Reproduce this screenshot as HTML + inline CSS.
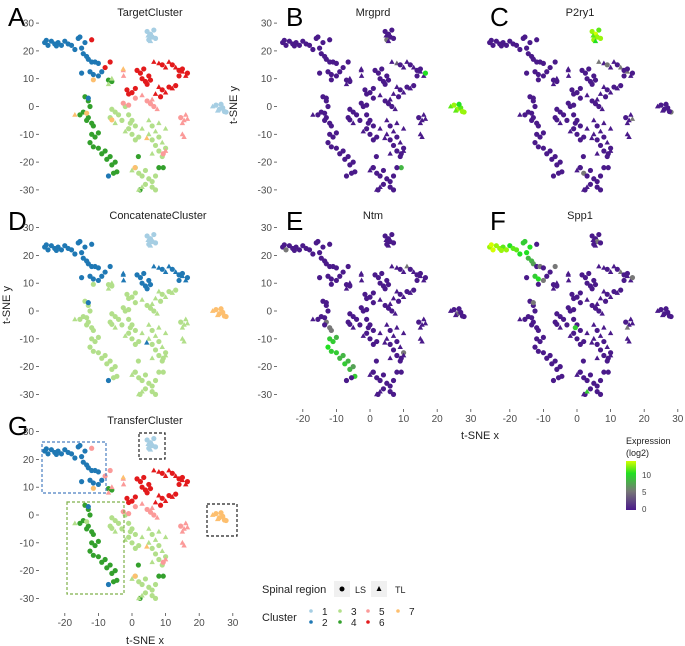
<!DOCTYPE html>
<html><head><meta charset="utf-8"><style>
html,body{margin:0;padding:0;background:#fff;}
svg{display:block;font-family:"Liberation Sans",sans-serif;}
.tk{fill:#4d4d4d;font-size:10px;}
</style></head><body>
<svg id="fig" width="685" height="646" viewBox="0 0 685 646">
<defs>
<linearGradient id="expGrad" x1="0" y1="1" x2="0" y2="0">
<stop offset="0" stop-color="#4a1a8a"/><stop offset="0.38" stop-color="#777777"/><stop offset="0.75" stop-color="#22e022"/><stop offset="1" stop-color="#d4ff00"/>
</linearGradient>
</defs>
</svg>
<script>
// points: x, y, shape(0=LS circle,1=TL triangle), targetCluster, concatCluster, transferCluster
const ptX = [-26,-25,-24,-23,-22,-21,-20,-19,-25.5,-22.5,-18,-17,-16,-15.5,-15,-14.5,-13.5,-14,-13,-12,-11,-10,-12.5,-11.5,-10,-15,-9,-12,-6.5,-8,
-14,-13,-12.5,-14.5,-15.5,-13,-12,-11.5,-13.5,-12,-11,-10,-12.5,-11.5,-10,-9,-8,-7.5,-6.5,-6,-5,-4.5,-5.5,-7,-6,1.9,9.3,2.4,8,-13,-7,
-6,-5,-4,-6.5,-3,-2,-1,0,1,-1,0,2,1,-0.5,-2,3,-5,5,6,7,6,8,7,8,9,10,9,6,5,8,10,1,2,3,4,5,6,7,4,3,6,0,2,7,-7,-6,
-2.6,-2.5,-2.6,-1,4.5,5.5,6.5,7.5,6,14.5,15.5,16.5,15,16,15,15.5,9.3,10,3,1,
1.5,2.5,3,4,5,4.5,3.5,5.5,-1.5,0,1,-1,6.5,8,9,10,11,12,13,14,15,16,15,16.5,14,8,9,10,11,12,13,7,8.5,
4.5,5.5,6,5,6.5,7,5.5,4.8,24,25,26,27,28,26.5,25.5,27.5,
-11.5,-17,-13.5,-6,4.4,0.9,-2.6];
const ptY = [23,22,23.5,22.5,23,22,23.5,22.5,23.8,21.8,22,20.5,24.5,25,21,19,18,23,17,16,16,15.5,12.5,11.5,11,12,12.5,24,16,14,
3.5,2,0,-2,-3,-4,-6,-7,-5,-10,-11,-9.5,-13,-14.5,-15,-17,-16,-19,-18,-21,-20,-23.5,-24,9.5,9,-18,-22,-30,-22,3,-25,
-1,-2,-3,-4,-5,0,-3,-5,-7,-8,-10,-11,-12,-6,-9,-8,-6,-5,-7,-9,-12,-11,-14,-16,-13,-15,-18,-17,-10,-6,-8,-22,-24,-25,-23,-26,-27,-25,-28,-29,-29,-23,-30,-30,8,10,
13,11,1.2,0.5,2,1,0,-1,2.5,-4,-5,-4.5,-6,-3,-10,-11,-17,-16,4,3,
13,12,10,9,11,8,13.5,9.5,6,5,6.5,4.5,16,15.5,15,14,16,15,14,13,12.5,11,13.5,12,11,7,6,5,7,6.5,7.5,4.5,3.5,
27,26,25,24,27.5,24.5,23.5,25.5,0,0.5,-1,-0.5,-2,0.8,-1.5,-1.8,
9.6,-3,-2.4,-4.8,-11.4,-22,13.5];
const ptShape = [0,0,0,0,0,0,0,0,0,0,0,0,0,0,0,0,0,0,0,0,0,0,0,0,0,0,0,0,0,0,
0,0,0,0,0,0,0,0,0,0,0,0,0,0,0,0,0,0,0,0,0,0,0,0,0,0,0,0,0,0,0,
0,0,0,0,0,0,0,0,0,0,0,0,0,0,1,1,1,1,0,1,0,0,0,0,1,0,0,1,1,1,1,0,0,0,0,0,0,0,0,1,0,1,1,0,1,1,
1,1,0,0,0,0,0,1,1,0,1,1,1,1,1,1,0,1,1,0,
0,0,0,0,0,0,0,0,0,0,0,0,1,1,0,1,1,0,1,0,1,1,0,0,0,1,0,1,0,1,0,1,0,
0,0,0,0,0,0,1,1,1,0,0,0,0,0,1,0,
0,1,0,0,1,0,1];
const targetCluster = [2,2,2,2,2,2,2,2,2,2,2,2,2,2,2,2,2,2,2,2,2,2,2,2,2,2,2,6,6,6,
4,4,4,4,4,4,4,4,4,4,4,4,4,4,4,4,4,4,4,4,4,4,4,4,4,4,4,4,4,2,2,
3,3,3,3,3,3,3,3,3,3,3,3,3,3,3,3,3,3,3,3,3,3,3,3,3,3,3,3,3,3,3,3,3,3,3,3,3,3,3,3,3,3,3,3,3,3,
5,5,5,5,5,5,5,5,5,5,5,5,5,5,5,5,5,5,5,5,
6,6,6,6,6,6,6,6,6,6,6,6,6,6,6,6,6,6,6,6,6,6,6,6,6,6,6,6,6,6,6,6,6,
1,1,1,1,1,1,1,1,1,1,1,1,1,1,1,1,
7,7,7,7,7,7,7];
const concatCluster = [2,2,2,2,2,2,2,2,2,2,2,2,2,2,2,2,2,2,2,2,2,2,2,2,2,2,2,2,2,2,
3,3,3,3,3,3,3,3,3,3,3,3,3,3,3,3,3,3,3,3,3,3,3,3,3,3,3,3,3,2,2,
3,3,3,3,3,3,3,3,3,3,3,3,3,3,3,3,3,3,3,3,3,3,3,3,3,3,3,3,3,3,3,3,3,3,3,3,3,3,3,3,3,3,3,3,3,3,
2,2,3,3,3,3,3,3,3,3,3,3,3,3,3,3,3,3,3,3,
2,2,2,2,2,2,2,2,3,3,3,3,2,2,2,2,2,2,2,2,2,2,2,2,2,3,3,3,3,3,3,3,3,
1,1,1,1,1,1,1,1,7,7,7,7,7,7,7,7,
3,3,3,3,2,3,2];
const transferCluster = [2,2,2,2,2,2,2,2,2,2,2,2,2,2,2,2,2,2,2,2,2,2,2,2,2,2,2,5,5,5,
4,4,4,4,4,4,4,4,4,4,4,4,4,4,4,4,4,4,4,4,4,4,4,4,4,4,4,4,4,2,2,
3,3,3,3,3,3,3,3,3,3,3,3,3,3,3,3,3,3,3,3,3,3,3,3,3,3,3,3,3,3,3,3,3,3,3,3,3,3,3,3,3,3,3,3,5,5,
5,5,5,5,5,5,5,5,5,5,5,5,5,5,5,5,5,5,5,5,
6,6,6,6,6,6,6,6,6,6,6,6,6,6,6,6,6,6,6,6,6,6,6,6,6,6,6,6,6,6,6,6,6,
1,1,1,1,1,1,1,1,7,7,7,7,7,7,7,7,
7,3,3,3,7,7,7];
// sparse expression values (log2) keyed by point index; all others 0
const mrgprdHigh = {168:11,169:12,170:12,171:11,172:12,173:10,174:11,175:12,150:10,56:8,163:5,140:4};
const p2ry1High = {160:12,161:13,162:12,163:12,164:11,165:12,166:10,167:11,139:5,141:5,145:5,147:5,118:5,93:5,172:5};
const ntmHigh = {39:9,40:9,41:8,42:10,43:9,44:9,45:8,46:8,47:9,48:8,49:8,50:7,51:9,35:5,36:5,37:5,1:5,86:5,143:5,170:4};
const spp1High = {0:12,1:13,2:12,3:12,4:11,5:12,6:10,7:11,8:13,9:12,10:11,11:10,12:9,13:9,14:10,15:8,16:8,17:10,18:7,20:5,22:9,23:10,24:5,28:5,74:9,145:5,150:5,119:5,100:9,59:5,162:5};
const clusterColors = {1:'#a6cee3',2:'#1f78b4',3:'#b2df8a',4:'#33a02c',5:'#fb9a99',6:'#e31a1c',7:'#fdbf6f'};
const yTicks = [30,20,10,0,-10,-20,-30];
const xTicks = [-20,-10,0,10,20,30];

const NS='http://www.w3.org/2000/svg';
const svg=document.getElementById('fig');
const SX=3.36, SY=2.78;
function el(tag,attrs,parent){const e=document.createElementNS(NS,tag);for(const k in attrs)e.setAttribute(k,attrs[k]);(parent||svg).appendChild(e);return e;}
function txt(s,attrs,parent){const e=el('text',attrs,parent);e.textContent=s;return e;}
function expColor(v){
  const stops=[[0,[74,26,138]],[5,[119,119,119]],[10,[34,224,34]],[13,[212,255,0]]];
  v=Math.max(0,Math.min(13,v));
  for(let i=0;i<stops.length-1;i++){const a=stops[i],b=stops[i+1];if(v<=b[0]){const t=(v-a[0])/(b[0]-a[0]);
    return 'rgb('+a[1].map((c,j)=>Math.round(c+(b[1][j]-c)*t)).join(',')+')';}}
  return 'rgb(212,255,0)';
}
const panels=[
 {id:'A',name:'target-cluster',title:'TargetCluster',x0:132,y0:106.5,tx:150,ty:16,lx:8,ly:26,ylab:true,xlab:false,col:i=>clusterColors[targetCluster[i]]},
 {id:'B',name:'mrgprd',title:'Mrgprd',x0:370,y0:106.5,tx:373,ty:16,lx:286,ly:26,ylab:true,xlab:false,col:i=>expColor(mrgprdHigh[i]||0)},
 {id:'C',name:'p2ry1',title:'P2ry1',x0:577,y0:106.5,tx:580,ty:16,lx:490,ly:26,ylab:false,xlab:false,col:i=>expColor(p2ry1High[i]||0)},
 {id:'D',name:'concatenate-cluster',title:'ConcatenateCluster',x0:132,y0:311,tx:158,ty:219,lx:8,ly:230,ylab:true,xlab:false,col:i=>clusterColors[concatCluster[i]]},
 {id:'E',name:'ntm',title:'Ntm',x0:370,y0:311,tx:373,ty:219,lx:286,ly:230,ylab:true,xlab:true,col:i=>expColor(ntmHigh[i]||0)},
 {id:'F',name:'spp1',title:'Spp1',x0:577,y0:311,tx:580,ty:219,lx:490,ly:230,ylab:false,xlab:true,col:i=>expColor(spp1High[i]||0)},
 {id:'G',name:'transfer-cluster',title:'TransferCluster',x0:132,y0:515,tx:145,ty:424,lx:8,ly:435,ylab:true,xlab:true,col:i=>clusterColors[transferCluster[i]]}
];
panels.forEach(p=>{
  const g=el('g',{});
  
  
  const xs=v=>p.x0+v*SX, ys=v=>p.y0-v*SY;
  const L=txt(p.id,{x:p.lx,y:p.ly,'font-size':26,fill:'#000'},g);
  
  
  const T=txt(p.title,{x:p.tx,y:p.ty,'font-size':11,'text-anchor':'middle',fill:'#222'},g);
  
  
  if(p.ylab){
    const ax=p.x0-93;
    yTicks.forEach(t=>{
      const tt=txt(String(t),{x:ax-5,y:ys(t)+3.5,class:'tk','text-anchor':'end'},g);
      
      
      el('line',{x1:ax-3,x2:ax,y1:ys(t),y2:ys(t),stroke:'#4d4d4d','stroke-width':0.8},g);
    });
  }
  if(p.xlab){
    const ay=p.y0+98;
    xTicks.forEach(t=>{
      el('line',{x1:xs(t),x2:xs(t),y1:ay,y2:ay+3,stroke:'#4d4d4d','stroke-width':0.8},g);
      const tt=txt(String(t),{x:xs(t),y:ay+13,class:'tk','text-anchor':'middle'},g);
      
      
    });
  }
  for(let i=0;i<ptX.length;i++){
    const cx=xs(ptX[i]),cy=ys(ptY[i]),c=p.col(i);let m;
    if(ptShape[i]===1){m=el('polygon',{points:(cx)+','+(cy-2.9)+' '+(cx-2.7)+','+(cy+1.9)+' '+(cx+2.7)+','+(cy+1.9),fill:c},g);}
    else{m=el('circle',{cx:cx,cy:cy,r:2.6,fill:c},g);}
    
    
  }
});
function label(s,x,y,name,rot){const e=txt(s,{x:x,y:y,'font-size':11,'text-anchor':'middle',fill:'#222',transform:rot?'rotate(-90 '+x+' '+y+')':''});
 }
label('t-SNE y',10,305,'y-axis-title-left',true);
label('t-SNE y',237,105,'y-axis-title-right',true);
label('t-SNE x',480,439,'x-axis-title-top',false);
label('t-SNE x',145,644,'x-axis-title-bottom',false);
[[42,442,64,51,'#4a7fc0','box-cluster-2'],[67,502,57,92,'#7fb04a','box-cluster-4'],[139,433,26,26,'#222','box-cluster-1'],[207,504,30,32,'#222','box-cluster-7']].forEach(b=>{
 const r=el('rect',{x:b[0],y:b[1],width:b[2],height:b[3],fill:'none',stroke:b[4],'stroke-width':1.2,'stroke-dasharray':'3,2'});
 
});
</script>
<svg width="685" height="646" style="position:absolute;left:0;top:0">
<g font-family="Liberation Sans, sans-serif" fill="#222">
<text x="626" y="444" font-size="9">Expression</text>
<text x="626" y="456" font-size="9">(log2)</text>
<rect x="626" y="461" width="10" height="49" fill="url(#expGrad)"/>
<text x="642" y="478" font-size="8" fill="#444">10</text>
<text x="642" y="495" font-size="8" fill="#444">5</text>
<text x="642" y="512" font-size="8" fill="#444">0</text>
<text x="262" y="593" font-size="11">Spinal region</text>
<rect x="334" y="581" width="16" height="16" fill="#f0f0f0"/>
<circle cx="342" cy="589" r="2.5" fill="#000"/>
<text x="355" y="593" font-size="9">LS</text>
<rect x="371" y="581" width="16" height="16" fill="#f0f0f0"/>
<polygon points="379,586 376.5,591 381.5,591" fill="#000"/>
<text x="395" y="593" font-size="9">TL</text>
<text x="262" y="621" font-size="11">Cluster</text>
<g font-size="10">
<circle cx="311" cy="611" r="1.8" fill="#a6cee3"/><text x="322" y="615">1</text>
<circle cx="311" cy="622" r="1.8" fill="#1f78b4"/><text x="322" y="626">2</text>
<circle cx="340" cy="611" r="1.8" fill="#b2df8a"/><text x="351" y="615">3</text>
<circle cx="340" cy="622" r="1.8" fill="#33a02c"/><text x="351" y="626">4</text>
<circle cx="368" cy="611" r="1.8" fill="#fb9a99"/><text x="379" y="615">5</text>
<circle cx="368" cy="622" r="1.8" fill="#e31a1c"/><text x="379" y="626">6</text>
<circle cx="398" cy="611" r="1.8" fill="#fdbf6f"/><text x="409" y="615">7</text>
</g>
</g>
</svg>
</body></html>
